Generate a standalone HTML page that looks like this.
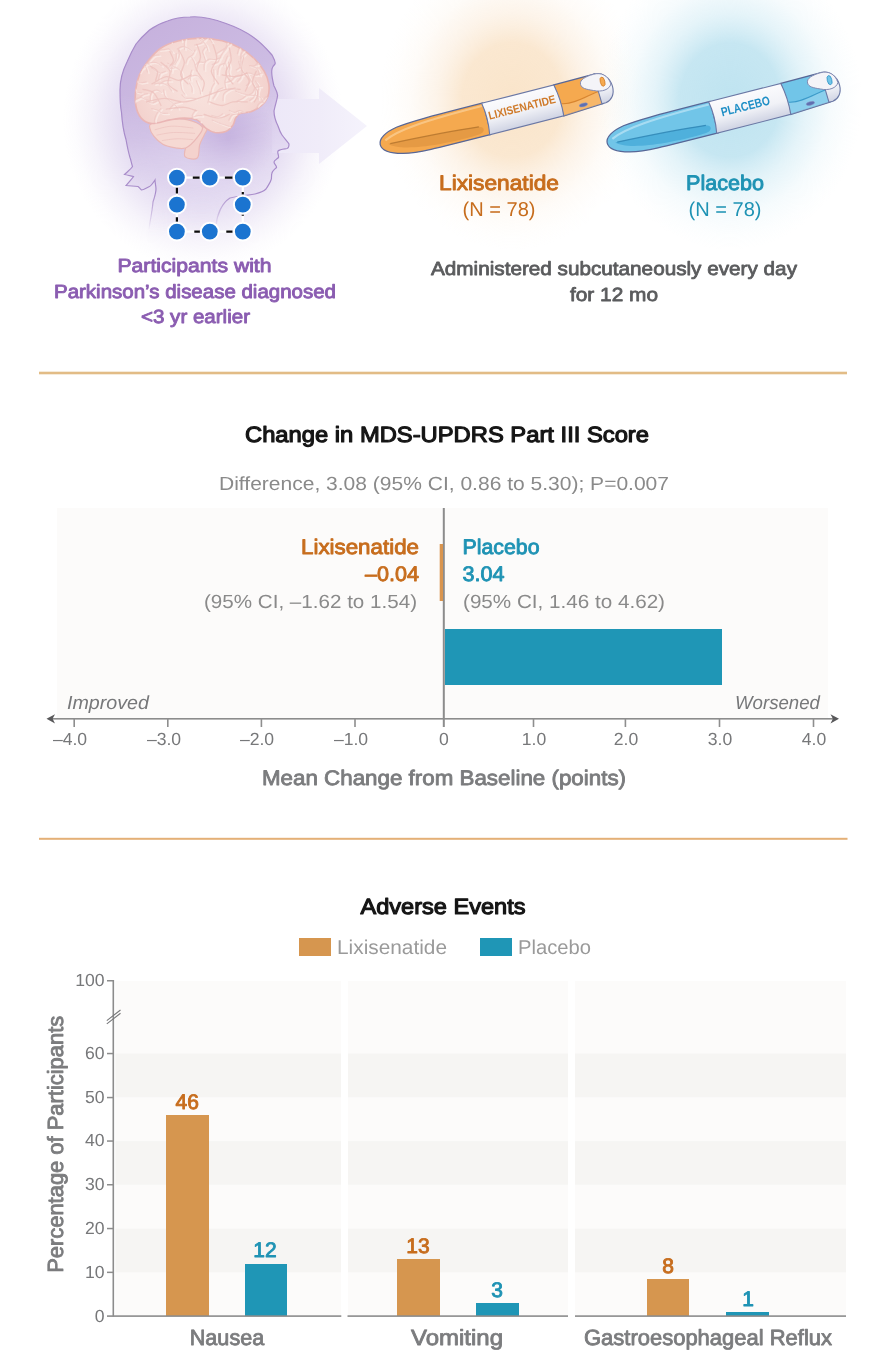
<!DOCTYPE html>
<html lang="en">
<head>
<meta charset="utf-8">
<title>Lixisenatide in Early Parkinson's Disease</title>
<style>
  html, body { margin: 0; padding: 0; background: #ffffff; }
  body { width: 890px; height: 1372px; overflow: hidden; }
  svg { display: block; will-change: transform; }
  text { -webkit-font-smoothing: antialiased; text-rendering: geometricPrecision; }
  text { font-family: "Liberation Sans", sans-serif; fill: currentColor; }
  .b { font-weight: normal; stroke: currentColor; stroke-width: 0.9px; stroke-linejoin: round; }
  .b.blk { stroke-width: 1.15px; }
  .b.dgry { stroke-width: 0.8px; }
  .b.lab { stroke-width: 0.85px; }
  .i { font-style: italic; }
  .org { color: #c76d1d; }
  .blu { color: #1f93b4; }
  .pur { color: #8b5db1; }
  .gry { color: #8a8a8a; }
  .dgry { color: #5b5c5e; }
  .tick { color: #77787a; }
  .blk { color: #151515; }
  .lab { color: #7b7c7e; }
  .lgry { color: #9a9a9a; }
</style>
</head>
<body>
<svg width="890" height="1372" viewBox="0 0 890 1372">
  <defs>
    <radialGradient id="gPur" cx="0.5" cy="0.5" r="0.5">
      <stop offset="0" stop-color="#e3dbf1" stop-opacity="0.95"/>
      <stop offset="0.45" stop-color="#dfd5ef" stop-opacity="0.9"/>
      <stop offset="0.6" stop-color="#d9cdec" stop-opacity="0.6"/>
      <stop offset="0.8" stop-color="#d9cdec" stop-opacity="0.22"/>
      <stop offset="0.92" stop-color="#d9cdec" stop-opacity="0.06"/>
      <stop offset="1" stop-color="#d9cdec" stop-opacity="0"/>
    </radialGradient>
    <radialGradient id="gOrg" cx="0.5" cy="0.5" r="0.5">
      <stop offset="0" stop-color="#f9e0c1" stop-opacity="0.85"/>
      <stop offset="0.38" stop-color="#f9e0c1" stop-opacity="0.75"/>
      <stop offset="0.58" stop-color="#fae6cf" stop-opacity="0.44"/>
      <stop offset="0.76" stop-color="#fae6cf" stop-opacity="0.15"/>
      <stop offset="0.9" stop-color="#fae6cf" stop-opacity="0.04"/>
      <stop offset="1" stop-color="#fae6cf" stop-opacity="0"/>
    </radialGradient>
    <radialGradient id="gBlu" cx="0.5" cy="0.5" r="0.5">
      <stop offset="0" stop-color="#b9e1ef" stop-opacity="0.92"/>
      <stop offset="0.38" stop-color="#b9e1ef" stop-opacity="0.81"/>
      <stop offset="0.58" stop-color="#c9e8f3" stop-opacity="0.48"/>
      <stop offset="0.76" stop-color="#c9e8f3" stop-opacity="0.17"/>
      <stop offset="0.9" stop-color="#c9e8f3" stop-opacity="0.05"/>
      <stop offset="1" stop-color="#c9e8f3" stop-opacity="0"/>
    </radialGradient>
    <linearGradient id="gHead" gradientUnits="userSpaceOnUse" x1="150" y1="20" x2="260" y2="200">
      <stop offset="0" stop-color="#c6b1dd"/>
      <stop offset="0.45" stop-color="#cdbce3"/>
      <stop offset="0.8" stop-color="#dcd0ed"/>
      <stop offset="1" stop-color="#e6def3"/>
    </linearGradient>
    <linearGradient id="gArrow" x1="0" y1="0" x2="1" y2="0">
      <stop offset="0" stop-color="#ede8f8"/>
      <stop offset="0.5" stop-color="#f0ecf9"/>
      <stop offset="1" stop-color="#f5f3fc"/>
    </linearGradient>
    <linearGradient id="gFade" x1="0" y1="0" x2="0" y2="1">
      <stop offset="0" stop-color="#ffffff" stop-opacity="0"/>
      <stop offset="0.75" stop-color="#ffffff" stop-opacity="0.9"/>
      <stop offset="1" stop-color="#ffffff" stop-opacity="1"/>
    </linearGradient>
    <radialGradient id="gBrain" gradientUnits="userSpaceOnUse" cx="200" cy="85" r="75">
      <stop offset="0" stop-color="#f8e3de"/>
      <stop offset="0.7" stop-color="#f5d8d3"/>
      <stop offset="1" stop-color="#f2cfcb"/>
    </radialGradient>
    <linearGradient id="gHeadMask" gradientUnits="userSpaceOnUse" x1="0" y1="95" x2="0" y2="238">
      <stop offset="0" stop-color="#fff" stop-opacity="1"/>
      <stop offset="0.3" stop-color="#fff" stop-opacity="0.78"/>
      <stop offset="0.55" stop-color="#fff" stop-opacity="0.45"/>
      <stop offset="0.78" stop-color="#fff" stop-opacity="0.18"/>
      <stop offset="1" stop-color="#fff" stop-opacity="0"/>
    </linearGradient>
    <linearGradient id="gLineMask" gradientUnits="userSpaceOnUse" x1="0" y1="193" x2="0" y2="230">
      <stop offset="0" stop-color="#fff" stop-opacity="1"/>
      <stop offset="1" stop-color="#fff" stop-opacity="0"/>
    </linearGradient>
    <mask id="mLine" maskUnits="userSpaceOnUse" x="90" y="0" width="220" height="260">
      <rect x="90" y="0" width="220" height="260" fill="url(#gLineMask)"/>
    </mask>
    <mask id="mHead" maskUnits="userSpaceOnUse" x="90" y="0" width="220" height="260">
      <rect x="90" y="0" width="220" height="260" fill="url(#gHeadMask)"/>
    </mask>
    <radialGradient id="gShade" gradientUnits="userSpaceOnUse" cx="228" cy="138" r="48">
      <stop offset="0" stop-color="#b79fd6" stop-opacity="0.75"/>
      <stop offset="1" stop-color="#b9a0d6" stop-opacity="0"/>
    </radialGradient>
    <clipPath id="cBrain"><path d="M135.8 89.3 C136.4 84.2 137.3 79.7 139.4 74.9 C141.5 70.1 144.8 65.1 148.4 60.6 C152.0 56.1 155.9 51.3 161.0 48.0 C166.0 44.7 172.3 42.4 178.9 40.8 C185.5 39.1 193.3 38.1 200.5 38.1 C207.7 38.1 215.5 39.1 222.1 40.8 C228.7 42.4 234.7 45.0 240.1 48.0 C245.4 51.0 250.4 54.9 254.4 58.8 C258.5 62.7 261.9 67.2 264.3 71.3 C266.7 75.5 268.2 79.7 268.8 83.9 C269.4 88.1 269.1 92.9 267.9 96.5 C266.7 100.1 264.5 103.0 261.6 105.5 C258.8 108.1 254.4 110.4 250.8 111.8 C247.2 113.1 242.6 112.5 240.1 113.6 C237.5 114.6 236.8 116.1 235.6 118.1 C234.4 120.0 234.5 123.0 232.9 125.3 C231.2 127.5 228.7 130.4 225.7 131.6 C222.7 132.8 218.0 132.9 214.9 132.5 C211.7 132.0 209.8 131.0 206.8 128.9 C203.8 126.8 200.7 121.7 196.9 119.9 C193.2 118.1 188.8 118.1 184.3 118.1 C179.8 118.1 175.3 119.0 169.9 119.9 C164.6 120.8 156.8 123.8 152.0 123.5 C147.2 123.2 143.9 121.1 141.2 118.1 C138.5 115.1 136.7 110.3 135.8 105.5 C134.9 100.7 135.2 94.4 135.8 89.3 Z"/></clipPath>
    <path id="head" d="M190 17 C200 16 214 19 226 23.5 C236 27 246 32 253 37 C259 41 266 48 272 55 C274 59 276 62 275 64 C273 66 272 67 272 69 C271 73 272 78 274 86 C276 90 278 93 277.500 96 C277 100 275 106 274 111 C274 116 276 122 278 126 C279 129 280 132 282 135 C284 138 288 142 289 144 C289 146 289 148 287 148.500 C284 149 280 149 278 151 C277 153 279 155 278.500 157.500 C277 159 274 160 274 162 C274 164 277 166 276.500 167.500 C275 169 272 171 272 173 C271 175 272 178 271 180 C270 183 268 186 266 189 C263 192 259 193 255 194 C251 195 247 195 244 195.500 C238 196 234 197 230 198 C222 203 217 214 216 226 L216 245 L147 245 C147 235 152 215 153 202 C155 196 156 192 156 189 C156 186 155 183 155 180 C153 183 151 186 149.500 186.500 C146 188 144 190 141.500 190 C140 189 139 187 138 186.500 C134 186 130 186 126 185.500 C128 183 132 179 133.500 176.500 C131 176 127 175 124.500 174.500 C127 172 131 169 132.500 166.500 C131 162 131 160 130 157.500 C128 151 127 145 126 139.500 C123 130 122 120 121.500 112.500 C120 105 120 97 120 90 C120 80 123 70 127 62 C130 55 133 49 136 44 C140 39 145 34 149.500 30 C155 26 161 23 167.500 21 C175 18 182 17 190 17 Z"/>
    <clipPath id="cHead"><use href="#head"/></clipPath>
    <linearGradient id="gLabel" x1="0" y1="0" x2="0" y2="1">
      <stop offset="0" stop-color="#fbfbfd"/>
      <stop offset="0.55" stop-color="#f1f2f7"/>
      <stop offset="1" stop-color="#cfd3e3"/>
    </linearGradient>
    <filter id="blur6" x="-20%" y="-20%" width="140%" height="140%"><feGaussianBlur stdDeviation="6"/></filter>
  </defs>

  <!-- ============ SECTION 1 : illustration ============ -->
  <g id="sec1">
    <!-- glows -->
    <ellipse cx="203" cy="120" rx="140" ry="150" fill="url(#gPur)"/>
    <ellipse cx="512" cy="100" rx="132" ry="150" fill="url(#gOrg)"/>
    <ellipse cx="730" cy="100" rx="132" ry="150" fill="url(#gBlu)"/>

    <!-- arrow -->
    <path d="M272 99 L319 99 L319 88 L367 126 L319 164 L319 153 L272 153 Z" fill="url(#gArrow)"/>

    <!-- head silhouette -->
    <g mask="url(#mHead)"><use href="#head" fill="url(#gHead)"/>
      <ellipse cx="228" cy="138" rx="50" ry="46" fill="url(#gShade)" clip-path="url(#cHead)"/>
    </g>
    <g mask="url(#mLine)"><use href="#head" fill="none" stroke="#a88cca" stroke-width="1.200"/></g>

    <!-- brain -->
    <g id="brain">
      <path d="M206.8 128.5 C208.0 129.9 205.3 132.4 204.1 135.2 C202.9 137.9 200.7 141.3 199.6 145.1 C198.5 148.9 199.7 156.0 197.3 158.0 C194.9 160.0 187.1 158.8 185.2 156.9 C183.3 155.1 185.0 150.0 185.8 146.9 C186.5 143.7 187.9 141.2 189.7 137.9 C191.6 134.6 194.1 128.6 196.9 127.1 C199.8 125.5 205.6 127.2 206.8 128.5 Z" fill="#f4d2cd" stroke="#eab8b6" stroke-width="1.2"/>
      <path d="M152.0 123.5 C155.3 122.1 164.0 120.1 169.9 119.5 C175.9 118.9 182.5 118.6 187.9 119.9 C193.3 121.1 200.8 124.1 202.3 127.1 C203.8 130.1 199.6 134.4 196.9 137.9 C194.2 141.3 189.7 146.1 186.1 147.8 C182.5 149.4 179.2 148.4 175.3 147.8 C171.4 147.2 166.3 146.1 162.8 144.2 C159.2 142.2 155.9 138.8 153.8 136.1 C151.6 133.4 150.1 130.1 149.8 128.0 C149.5 125.9 148.6 124.9 152.0 123.5 Z" fill="#f6d9d3" stroke="#eab8b6" stroke-width="1.2"/>
      <path d="M154.7 129.8 C157.5 129.2 165.3 126.5 171.7 126.2 C178.2 125.9 189.7 127.7 193.3 128.0 M156.5 135.2 C159.3 134.7 167.1 132.8 173.5 132.5 C180.0 132.2 191.5 133.2 195.1 133.4 M161.9 140.6 C164.4 140.3 171.9 138.9 177.1 138.8 C182.4 138.6 190.6 139.5 193.3 139.7" fill="none" stroke="#eec4c0" stroke-width="1" opacity="0.8"/>
      <path d="M135.8 89.3 C136.4 84.2 137.3 79.7 139.4 74.9 C141.5 70.1 144.8 65.1 148.4 60.6 C152.0 56.1 155.9 51.3 161.0 48.0 C166.0 44.7 172.3 42.4 178.9 40.8 C185.5 39.1 193.3 38.1 200.5 38.1 C207.7 38.1 215.5 39.1 222.1 40.8 C228.7 42.4 234.7 45.0 240.1 48.0 C245.4 51.0 250.4 54.9 254.4 58.8 C258.5 62.7 261.9 67.2 264.3 71.3 C266.7 75.5 268.2 79.7 268.8 83.9 C269.4 88.1 269.1 92.9 267.9 96.5 C266.7 100.1 264.5 103.0 261.6 105.5 C258.8 108.1 254.4 110.4 250.8 111.8 C247.2 113.1 242.6 112.5 240.1 113.6 C237.5 114.6 236.8 116.1 235.6 118.1 C234.4 120.0 234.5 123.0 232.9 125.3 C231.2 127.5 228.7 130.4 225.7 131.6 C222.7 132.8 218.0 132.9 214.9 132.5 C211.7 132.0 209.8 131.0 206.8 128.9 C203.8 126.8 200.7 121.7 196.9 119.9 C193.2 118.1 188.8 118.1 184.3 118.1 C179.8 118.1 175.3 119.0 169.9 119.9 C164.6 120.8 156.8 123.8 152.0 123.5 C147.2 123.2 143.9 121.1 141.2 118.1 C138.5 115.1 136.7 110.3 135.8 105.5 C134.9 100.7 135.2 94.4 135.8 89.3 Z" fill="url(#gBrain)" stroke="#eab6b5" stroke-width="1.6"/>
      <g clip-path="url(#cBrain)" fill="none" stroke-linecap="round">
        <path d="M135.9 82.7 C135.4 83.5 134.1 86.1 133.0 87.8 C132.0 89.4 130.1 91.7 129.6 92.5 M143.2 94.2 C142.2 94.0 138.8 93.9 137.4 92.8 C136.0 91.6 135.2 88.3 134.8 87.5 M151.3 54.3 C150.6 53.6 148.7 51.3 147.4 49.9 C146.1 48.4 144.1 46.2 143.5 45.4 M150.9 65.4 C150.0 65.2 147.3 64.1 145.6 64.2 C143.9 64.3 142.2 65.9 140.5 66.0 C138.8 66.2 136.8 64.8 135.2 65.2 C133.5 65.6 131.4 67.7 130.7 68.2 M149.0 73.2 C148.7 72.3 148.4 69.5 147.3 68.2 C146.3 66.9 144.4 66.3 142.9 65.4 C141.4 64.6 139.5 64.4 138.1 63.4 C136.8 62.3 135.3 60.0 134.8 59.3 M147.8 83.1 C146.8 83.2 143.4 84.3 141.4 83.8 C139.5 83.4 136.9 81.0 136.0 80.4 M149.1 94.8 C148.4 95.0 146.0 95.3 144.6 95.9 C143.2 96.6 142.3 98.1 140.9 98.8 C139.6 99.6 137.6 99.3 136.5 100.3 C135.4 101.2 134.7 103.7 134.3 104.4 M152.4 101.7 C151.6 101.6 148.9 101.4 147.3 100.9 C145.6 100.5 144.2 98.7 142.6 98.7 C141.0 98.7 139.4 100.1 137.8 100.8 C136.3 101.6 134.0 102.8 133.2 103.2 M160.7 56.2 C159.8 56.3 156.8 56.2 155.3 57.0 C153.7 57.8 152.6 59.5 151.4 60.9 C150.2 62.3 149.3 63.9 148.1 65.3 C146.9 66.7 145.0 68.7 144.4 69.4 M163.3 67.1 C162.3 66.5 159.4 64.2 157.3 63.7 C155.1 63.2 152.5 63.5 150.4 64.2 C148.2 64.8 146.1 66.2 144.5 67.8 C142.9 69.3 141.5 72.7 140.9 73.7 M161.5 73.9 C160.7 73.6 158.5 72.7 157.1 71.9 C155.7 71.1 153.8 69.5 153.1 69.0 M160.1 80.2 C160.4 79.3 160.8 76.1 161.9 74.9 C163.1 73.6 166.2 72.9 167.0 72.5 M163.0 93.7 C162.4 93.3 160.4 91.5 158.9 91.3 C157.5 91.1 155.5 91.6 154.3 92.5 C153.2 93.4 152.3 95.1 151.9 96.6 C151.5 98.1 151.9 100.6 151.9 101.4 M158.9 101.9 C158.0 102.3 155.3 104.2 153.5 104.2 C151.6 104.2 148.9 102.3 148.0 101.9 M162.5 109.8 C162.0 110.4 160.1 112.0 159.2 113.4 C158.3 114.7 157.6 116.2 157.0 117.7 C156.5 119.2 155.8 120.9 156.0 122.5 C156.1 124.0 157.8 126.1 158.1 126.8 M172.3 43.1 C171.7 42.2 169.8 39.7 168.5 38.0 C167.2 36.3 165.1 33.9 164.4 33.1 M174.1 53.3 C173.5 52.8 171.9 50.6 170.5 50.1 C169.1 49.7 167.3 50.6 165.7 50.8 C164.0 50.9 161.6 51.1 160.8 51.2 M176.4 66.1 C176.9 65.3 178.6 62.9 179.3 61.1 C180.1 59.3 180.8 57.4 180.9 55.5 C180.9 53.6 179.7 50.8 179.5 49.9 M172.9 73.2 C173.1 72.1 173.1 68.8 173.8 66.8 C174.6 64.8 176.7 63.3 177.3 61.3 C178.0 59.3 177.7 55.9 177.8 54.8 M172.7 82.0 C171.7 82.1 168.3 81.5 166.3 82.1 C164.3 82.7 161.7 85.0 160.8 85.6 M173.4 92.0 C172.7 91.1 170.8 88.0 169.0 86.7 C167.1 85.4 164.7 84.5 162.5 84.3 C160.3 84.0 156.8 85.0 155.7 85.2 M170.2 100.8 C169.5 100.1 167.2 98.3 166.3 96.6 C165.5 95.0 165.4 92.0 165.2 91.1 M169.3 114.5 C168.3 114.4 165.3 114.8 163.6 114.3 C161.8 113.7 160.5 112.0 158.8 111.2 C157.0 110.5 154.2 110.0 153.3 109.8 M182.8 42.4 C182.6 41.6 182.4 39.0 181.6 37.6 C180.8 36.3 178.6 35.8 177.8 34.5 C177.1 33.1 177.2 30.4 177.1 29.6 M186.1 50.4 C186.0 49.3 185.9 46.3 185.9 44.2 C186.0 42.2 186.9 40.0 186.4 38.1 C185.8 36.2 184.5 34.0 182.9 33.0 C181.3 32.1 177.8 32.5 176.8 32.4 M187.4 64.4 C187.7 63.5 188.4 60.6 189.5 59.2 C190.6 57.9 192.9 57.5 194.1 56.1 C195.3 54.8 196.2 51.9 196.6 51.1 M181.6 71.5 C180.9 71.1 178.8 69.3 177.2 69.0 C175.6 68.7 173.6 70.0 172.1 69.7 C170.5 69.3 168.5 67.3 167.8 66.8 M182.4 82.9 C182.7 81.8 184.0 78.5 183.8 76.4 C183.5 74.4 182.3 72.0 180.9 70.5 C179.4 69.1 177.0 68.5 175.0 67.5 C173.1 66.5 170.2 64.9 169.3 64.3 M186.6 95.4 C186.1 94.8 184.3 92.9 183.6 91.4 C183.0 90.0 182.8 88.3 182.5 86.7 C182.2 85.0 182.0 82.6 181.9 81.8 M182.2 103.3 C181.1 103.7 177.6 104.1 175.8 105.2 C173.9 106.3 172.0 109.3 171.2 110.1 M179.9 110.0 C179.2 109.2 177.0 106.8 175.5 105.4 C173.9 103.9 171.4 102.0 170.6 101.3 M184.5 123.2 C183.6 123.6 181.0 124.7 179.3 125.5 C177.6 126.2 176.0 127.8 174.2 127.9 C172.5 128.0 169.8 126.3 169.0 125.9 M196.2 46.2 C197.3 45.9 200.9 45.5 202.8 44.4 C204.6 43.3 206.0 41.2 207.5 39.5 C209.0 37.8 211.0 35.1 211.7 34.2 M193.9 52.3 C193.2 51.8 191.0 49.9 189.3 49.2 C187.7 48.4 185.7 47.7 183.9 47.8 C182.2 48.0 179.7 49.8 178.9 50.2 M196.8 66.7 C197.4 66.1 198.8 63.8 200.2 63.2 C201.6 62.7 203.5 63.8 205.1 63.5 C206.6 63.1 208.7 61.7 209.4 61.3 M198.2 72.4 C198.0 71.6 197.3 69.2 196.9 67.7 C196.5 66.1 196.3 64.4 195.7 62.9 C195.1 61.4 193.6 59.4 193.2 58.7 M192.2 81.7 C192.1 80.9 191.6 78.2 191.8 76.4 C192.0 74.7 193.1 72.2 193.4 71.3 M193.7 93.3 C193.6 92.5 193.9 90.0 193.5 88.6 C193.1 87.1 191.5 85.1 191.1 84.4 M197.6 99.9 C196.8 99.8 194.2 99.4 192.5 99.3 C190.8 99.2 188.8 99.9 187.3 99.4 C185.8 98.8 184.0 96.6 183.4 96.0 M197.2 111.3 C196.6 112.2 194.1 114.7 193.8 116.6 C193.5 118.5 195.1 120.6 195.3 122.6 C195.4 124.7 194.7 126.8 194.6 128.9 C194.5 130.9 194.8 134.1 194.8 135.1 M191.2 126.7 C190.4 126.7 187.8 126.1 186.5 126.6 C185.1 127.1 184.4 129.2 183.0 129.8 C181.7 130.4 179.1 130.2 178.3 130.2 M205.2 41.9 C204.6 41.2 202.3 39.1 201.3 37.3 C200.3 35.6 199.2 33.5 199.3 31.6 C199.4 29.8 201.5 27.1 201.9 26.2 M209.4 51.3 C209.0 50.3 208.4 47.2 207.2 45.6 C206.1 44.0 204.1 43.0 202.5 41.8 C200.9 40.6 198.3 39.0 197.4 38.5 M207.0 61.4 C206.7 60.6 206.0 58.5 205.6 57.0 C205.1 55.5 204.0 54.0 204.2 52.6 C204.3 51.2 206.2 49.4 206.6 48.7 M205.7 71.2 C205.8 70.1 205.3 66.8 206.0 65.0 C206.8 63.3 208.5 61.3 210.2 60.5 C211.9 59.8 214.3 61.0 216.3 60.7 C218.3 60.4 221.2 59.1 222.2 58.7 M203.3 81.0 C202.7 80.4 201.1 77.7 199.5 77.1 C197.9 76.4 195.6 76.5 194.0 77.0 C192.3 77.6 190.4 79.9 189.6 80.4 M202.2 95.1 C202.0 94.4 201.8 92.0 201.4 90.6 C200.9 89.1 200.2 87.7 199.6 86.3 C199.0 84.8 198.2 82.7 197.9 81.9 M209.4 104.0 C209.6 103.1 210.4 100.4 210.8 98.5 C211.2 96.7 211.5 93.9 211.6 92.9 M203.7 116.9 C202.9 116.9 200.2 116.6 198.6 116.9 C196.9 117.2 195.3 117.9 193.8 118.7 C192.3 119.4 190.3 121.1 189.6 121.6 M201.6 122.3 C201.1 122.9 198.9 124.7 198.4 126.3 C197.9 127.8 199.1 129.8 198.7 131.4 C198.4 133.0 196.7 135.1 196.3 135.8 M213.8 43.9 C213.3 43.1 211.9 40.9 211.2 39.3 C210.5 37.7 210.0 36.0 209.4 34.4 C208.8 32.7 208.1 30.2 207.8 29.3 M218.6 54.5 C219.5 53.9 222.2 52.1 224.0 51.0 C225.8 49.8 227.8 48.9 229.3 47.4 C230.8 45.9 231.5 43.7 232.9 42.1 C234.3 40.5 236.8 38.4 237.5 37.7 M213.8 65.8 C214.7 65.3 218.0 64.4 219.5 63.0 C220.9 61.6 221.3 59.2 222.3 57.4 C223.3 55.5 224.4 53.7 225.4 51.8 C226.4 50.0 228.0 47.3 228.5 46.3 M219.3 75.6 C219.4 74.9 219.4 72.5 219.7 70.9 C220.1 69.4 220.3 67.6 221.3 66.5 C222.3 65.5 224.9 65.0 225.6 64.7 M215.6 82.8 C215.6 81.8 215.6 78.8 215.5 76.7 C215.5 74.7 215.3 71.7 215.3 70.7 M212.6 95.6 C212.7 94.6 212.6 91.4 213.2 89.5 C213.8 87.5 215.7 85.0 216.2 84.1 M214.6 99.8 C215.1 99.1 216.5 97.0 217.4 95.6 C218.3 94.1 218.7 92.2 219.9 91.1 C221.1 90.0 223.7 89.3 224.5 89.0 M213.2 116.5 C214.2 116.7 217.2 118.2 219.1 118.0 C220.9 117.7 223.5 115.5 224.3 115.0 M213.8 121.2 C214.7 121.6 217.5 122.8 219.4 123.6 C221.2 124.3 223.1 125.0 225.0 125.7 C226.9 126.4 229.8 127.4 230.7 127.8 M225.3 53.1 C225.9 52.3 228.1 50.2 228.6 48.5 C229.1 46.8 227.8 44.6 228.3 42.9 C228.8 41.2 231.1 39.1 231.7 38.3 M225.2 67.0 C225.5 66.2 226.5 63.8 227.1 62.2 C227.7 60.5 228.7 58.1 229.1 57.3 M231.6 77.2 C231.4 76.4 230.4 74.1 230.4 72.6 C230.3 71.1 231.3 69.5 231.2 68.0 C231.2 66.5 230.3 64.2 230.1 63.5 M226.5 84.0 C227.5 83.7 231.0 83.0 232.8 81.9 C234.7 80.7 235.6 77.9 237.5 77.0 C239.3 76.1 243.0 76.4 244.1 76.3 M227.5 89.4 C227.3 88.4 226.3 85.3 226.4 83.3 C226.5 81.3 227.5 79.3 227.8 77.3 C228.1 75.2 228.4 73.1 228.3 71.1 C228.3 69.0 227.6 66.0 227.4 64.9 M224.6 101.9 C224.7 100.8 224.3 97.1 225.3 95.3 C226.3 93.5 228.5 92.1 230.4 91.1 C232.3 90.0 235.6 89.4 236.7 89.1 M230.8 111.5 C231.7 111.9 234.2 113.6 235.9 113.6 C237.5 113.7 239.3 111.7 241.0 111.7 C242.7 111.7 244.6 112.8 246.0 113.9 C247.4 114.9 249.0 117.3 249.6 118.0 M230.4 121.4 C230.9 120.6 232.0 117.2 233.5 116.2 C235.0 115.1 237.5 115.5 239.4 114.9 C241.4 114.4 244.2 113.3 245.2 113.0 M237.1 45.4 C238.2 45.3 241.6 44.7 243.8 44.8 C246.0 44.8 248.6 44.7 250.4 45.7 C252.3 46.7 254.1 48.9 254.7 50.9 C255.3 52.9 254.1 56.5 254.0 57.6 M239.0 55.0 C239.3 54.1 239.8 51.3 240.5 49.5 C241.3 47.8 242.8 46.5 243.4 44.7 C244.1 43.0 244.7 40.8 244.3 39.2 C243.9 37.5 241.5 35.4 240.9 34.7 M242.0 60.2 C242.1 59.4 242.2 56.7 242.8 55.1 C243.4 53.5 244.5 52.0 245.6 50.7 C246.7 49.4 248.8 47.8 249.5 47.3 M237.8 71.1 C238.5 70.6 240.9 69.5 241.7 68.2 C242.4 66.9 242.1 65.0 242.4 63.4 C242.6 61.9 242.4 60.1 243.1 58.7 C243.7 57.3 245.7 55.7 246.2 55.1 M239.0 82.8 C239.6 82.1 241.7 80.1 242.5 78.5 C243.3 76.9 243.8 74.8 243.7 73.1 C243.6 71.3 242.3 69.6 241.7 67.9 C241.2 66.1 240.5 63.4 240.3 62.5 M237.2 92.1 C238.2 92.6 241.3 94.0 243.4 94.7 C245.5 95.3 247.7 95.8 249.9 96.2 C252.1 96.5 255.5 96.6 256.6 96.7 M238.8 102.2 C239.7 101.8 242.4 100.8 244.0 99.8 C245.6 98.8 247.7 96.8 248.5 96.2 M240.1 113.4 C240.4 114.2 241.1 116.4 241.9 117.8 C242.6 119.2 243.8 120.3 244.5 121.7 C245.2 123.1 245.8 125.5 246.1 126.2 M238.1 121.7 C238.7 122.2 241.0 123.3 242.0 124.5 C243.0 125.6 243.9 128.0 244.3 128.7 M249.5 49.8 C250.4 49.0 253.7 47.2 254.8 45.3 C255.8 43.4 256.2 40.6 255.9 38.4 C255.5 36.3 253.8 34.3 252.8 32.2 C251.8 30.1 250.4 27.0 249.9 25.9 M251.1 66.7 C251.8 66.8 254.4 67.6 255.8 67.1 C257.1 66.6 258.4 65.0 259.0 63.7 C259.6 62.3 259.1 60.5 259.3 59.0 C259.6 57.4 260.1 55.1 260.3 54.3 M245.9 74.9 C246.9 74.8 249.8 74.0 251.7 74.3 C253.6 74.5 255.3 76.4 257.1 76.4 C258.9 76.4 261.7 74.7 262.6 74.4 M248.0 86.7 C248.6 86.1 250.9 84.4 251.3 83.0 C251.8 81.5 251.1 79.5 250.5 78.0 C250.0 76.4 248.5 74.3 248.0 73.6 M249.3 96.9 C250.1 96.3 252.7 95.1 254.0 93.7 C255.3 92.4 255.5 89.8 256.9 88.8 C258.3 87.8 261.5 87.8 262.4 87.6 M251.2 101.7 C252.1 100.9 255.3 99.0 256.2 97.1 C257.1 95.3 257.1 92.6 256.7 90.5 C256.4 88.3 255.1 86.3 254.0 84.3 C253.0 82.3 251.1 79.5 250.6 78.6 M248.6 113.1 C249.5 113.3 252.4 114.3 253.9 113.8 C255.5 113.3 256.8 111.5 257.8 110.1 C258.9 108.6 258.9 106.4 260.1 105.2 C261.3 103.9 264.0 103.0 264.8 102.5 M258.7 66.3 C259.5 65.7 262.0 64.0 263.6 62.8 C265.3 61.6 266.7 59.7 268.5 59.2 C270.3 58.7 272.7 60.3 274.5 59.8 C276.2 59.2 278.3 56.5 279.0 55.9 M261.4 76.6 C261.0 75.5 260.4 71.6 259.0 70.1 C257.5 68.5 253.7 67.7 252.6 67.3 M257.1 82.3 C257.6 83.2 260.1 85.8 260.5 87.7 C260.8 89.6 259.2 91.8 259.1 93.9 C259.0 96.0 259.6 99.1 259.7 100.2 M258.1 96.7 C258.9 97.1 261.5 98.0 262.7 99.2 C263.9 100.5 264.6 103.2 265.0 104.0 M264.5 102.7 C264.9 102.0 265.7 99.2 267.0 98.2 C268.3 97.2 271.2 97.2 272.1 96.9" stroke="#fbeeea" stroke-width="1.600" opacity="0.7"/>
        <path d="M134.3 81.5 C133.8 82.3 132.5 84.9 131.4 86.6 C130.4 88.2 128.5 90.5 128.0 91.3 M141.6 93.0 C140.6 92.8 137.2 92.7 135.8 91.6 C134.4 90.4 133.6 87.1 133.2 86.3 M149.7 53.1 C149.0 52.4 147.1 50.1 145.8 48.7 C144.5 47.2 142.5 45.0 141.9 44.2 M149.3 64.2 C148.4 64.0 145.7 62.9 144.0 63.0 C142.3 63.1 140.6 64.7 138.9 64.8 C137.2 65.0 135.2 63.6 133.6 64.0 C131.9 64.4 129.8 66.5 129.1 67.0 M147.4 72.0 C147.1 71.1 146.8 68.3 145.7 67.0 C144.7 65.7 142.8 65.1 141.3 64.2 C139.8 63.4 137.9 63.2 136.5 62.2 C135.2 61.1 133.7 58.8 133.2 58.1 M146.2 81.9 C145.2 82.0 141.8 83.1 139.8 82.6 C137.9 82.2 135.3 79.8 134.4 79.2 M147.5 93.6 C146.8 93.8 144.4 94.1 143.0 94.7 C141.6 95.4 140.7 96.9 139.3 97.6 C138.0 98.4 136.0 98.1 134.9 99.1 C133.8 100.0 133.1 102.5 132.7 103.2 M150.8 100.5 C150.0 100.4 147.3 100.2 145.7 99.7 C144.0 99.3 142.6 97.5 141.0 97.5 C139.4 97.5 137.8 98.9 136.2 99.6 C134.7 100.4 132.4 101.6 131.6 102.0 M159.1 55.0 C158.2 55.1 155.2 55.0 153.7 55.8 C152.1 56.6 151.0 58.3 149.8 59.7 C148.6 61.1 147.7 62.7 146.5 64.1 C145.3 65.5 143.4 67.5 142.8 68.2 M161.7 65.9 C160.7 65.3 157.8 63.0 155.7 62.5 C153.5 62.0 150.9 62.3 148.8 63.0 C146.6 63.6 144.5 65.0 142.9 66.6 C141.3 68.1 139.9 71.5 139.3 72.5 M159.9 72.7 C159.1 72.4 156.9 71.5 155.5 70.7 C154.1 69.9 152.2 68.3 151.5 67.8 M158.5 79.0 C158.8 78.1 159.2 74.9 160.3 73.7 C161.5 72.4 164.6 71.7 165.4 71.3 M161.4 92.5 C160.8 92.1 158.8 90.3 157.3 90.1 C155.9 89.9 153.9 90.4 152.7 91.3 C151.6 92.2 150.7 93.9 150.3 95.4 C149.9 96.9 150.3 99.4 150.3 100.2 M157.3 100.7 C156.4 101.1 153.7 103.0 151.9 103.0 C150.0 103.0 147.3 101.1 146.4 100.7 M160.9 108.6 C160.4 109.2 158.5 110.8 157.6 112.2 C156.7 113.5 156.0 115.0 155.4 116.5 C154.9 118.0 154.2 119.7 154.4 121.3 C154.5 122.8 156.2 124.9 156.5 125.6 M170.7 41.9 C170.1 41.0 168.2 38.5 166.9 36.8 C165.6 35.1 163.5 32.7 162.8 31.9 M172.5 52.1 C171.9 51.6 170.3 49.4 168.9 48.9 C167.5 48.5 165.7 49.4 164.1 49.6 C162.4 49.7 160.0 49.9 159.2 50.0 M174.8 64.9 C175.3 64.1 177.0 61.7 177.7 59.9 C178.5 58.1 179.2 56.2 179.3 54.3 C179.3 52.4 178.1 49.6 177.9 48.7 M171.3 72.0 C171.5 70.9 171.5 67.6 172.2 65.6 C173.0 63.6 175.1 62.1 175.7 60.1 C176.4 58.1 176.1 54.7 176.2 53.6 M171.1 80.8 C170.1 80.9 166.7 80.3 164.7 80.9 C162.7 81.5 160.1 83.8 159.2 84.4 M171.8 90.8 C171.1 89.9 169.2 86.8 167.4 85.5 C165.5 84.2 163.1 83.3 160.9 83.1 C158.7 82.8 155.2 83.8 154.1 84.0 M168.6 99.6 C167.9 98.9 165.6 97.1 164.7 95.4 C163.9 93.8 163.8 90.8 163.6 89.9 M167.7 113.3 C166.7 113.2 163.7 113.6 162.0 113.1 C160.2 112.5 158.9 110.8 157.2 110.0 C155.4 109.3 152.6 108.8 151.7 108.6 M181.2 41.2 C181.0 40.4 180.8 37.8 180.0 36.4 C179.2 35.1 177.0 34.6 176.2 33.3 C175.5 31.9 175.6 29.2 175.5 28.4 M184.5 49.2 C184.4 48.1 184.3 45.1 184.3 43.0 C184.4 41.0 185.3 38.8 184.8 36.9 C184.2 35.0 182.9 32.8 181.3 31.8 C179.7 30.9 176.2 31.3 175.2 31.2 M185.8 63.2 C186.1 62.3 186.8 59.4 187.9 58.0 C189.0 56.7 191.3 56.3 192.5 54.9 C193.7 53.6 194.6 50.7 195.0 49.9 M180.0 70.3 C179.3 69.9 177.2 68.1 175.6 67.8 C174.0 67.5 172.0 68.8 170.5 68.5 C168.9 68.1 166.9 66.1 166.2 65.6 M180.8 81.7 C181.1 80.6 182.4 77.3 182.2 75.2 C181.9 73.2 180.7 70.8 179.3 69.3 C177.8 67.9 175.4 67.3 173.4 66.3 C171.5 65.3 168.6 63.7 167.7 63.1 M185.0 94.2 C184.5 93.6 182.7 91.7 182.0 90.2 C181.4 88.8 181.2 87.1 180.9 85.5 C180.6 83.8 180.4 81.4 180.3 80.6 M180.6 102.1 C179.5 102.5 176.0 102.9 174.2 104.0 C172.3 105.1 170.4 108.1 169.6 108.9 M178.3 108.8 C177.6 108.0 175.4 105.6 173.9 104.2 C172.3 102.7 169.8 100.8 169.0 100.1 M182.9 122.0 C182.0 122.4 179.4 123.5 177.7 124.3 C176.0 125.0 174.4 126.6 172.6 126.7 C170.9 126.8 168.2 125.1 167.4 124.7 M194.6 45.0 C195.7 44.7 199.3 44.3 201.2 43.2 C203.0 42.1 204.4 40.0 205.9 38.3 C207.4 36.6 209.4 33.9 210.1 33.0 M192.3 51.1 C191.6 50.6 189.4 48.7 187.7 48.0 C186.1 47.2 184.1 46.5 182.3 46.6 C180.6 46.8 178.1 48.6 177.3 49.0 M195.2 65.5 C195.8 64.9 197.2 62.6 198.6 62.0 C200.0 61.5 201.9 62.6 203.5 62.3 C205.0 61.9 207.1 60.5 207.8 60.1 M196.6 71.2 C196.4 70.4 195.7 68.0 195.3 66.5 C194.9 64.9 194.7 63.2 194.1 61.7 C193.5 60.2 192.0 58.2 191.6 57.5 M190.6 80.5 C190.5 79.7 190.0 77.0 190.2 75.2 C190.4 73.5 191.5 71.0 191.8 70.1 M192.1 92.1 C192.0 91.3 192.3 88.8 191.9 87.4 C191.5 85.9 189.9 83.9 189.5 83.2 M196.0 98.7 C195.2 98.6 192.6 98.2 190.9 98.1 C189.2 98.0 187.2 98.7 185.7 98.2 C184.2 97.6 182.4 95.4 181.8 94.8 M195.6 110.1 C195.0 111.0 192.5 113.5 192.2 115.4 C191.9 117.3 193.5 119.4 193.7 121.4 C193.8 123.5 193.1 125.6 193.0 127.7 C192.9 129.7 193.2 132.9 193.2 133.9 M189.6 125.5 C188.8 125.5 186.2 124.9 184.9 125.4 C183.5 125.9 182.8 128.0 181.4 128.6 C180.1 129.2 177.5 129.0 176.7 129.0 M203.6 40.7 C203.0 40.0 200.7 37.9 199.7 36.1 C198.7 34.4 197.6 32.3 197.7 30.4 C197.8 28.6 199.9 25.9 200.3 25.0 M207.8 50.1 C207.4 49.1 206.8 46.0 205.6 44.4 C204.5 42.8 202.5 41.8 200.9 40.6 C199.3 39.4 196.7 37.8 195.8 37.3 M205.4 60.2 C205.1 59.4 204.4 57.3 204.0 55.8 C203.5 54.3 202.4 52.8 202.6 51.4 C202.7 50.0 204.6 48.2 205.0 47.5 M204.1 70.0 C204.2 68.9 203.7 65.6 204.4 63.8 C205.2 62.1 206.9 60.1 208.6 59.3 C210.3 58.6 212.7 59.8 214.7 59.5 C216.7 59.2 219.6 57.9 220.6 57.5 M201.7 79.8 C201.1 79.2 199.5 76.5 197.9 75.9 C196.3 75.2 194.0 75.3 192.4 75.8 C190.7 76.4 188.8 78.7 188.0 79.2 M200.6 93.9 C200.4 93.2 200.2 90.8 199.8 89.4 C199.3 87.9 198.6 86.5 198.0 85.1 C197.4 83.6 196.6 81.5 196.3 80.7 M207.8 102.8 C208.0 101.9 208.8 99.2 209.2 97.3 C209.6 95.5 209.9 92.7 210.0 91.7 M202.1 115.7 C201.3 115.7 198.6 115.4 197.0 115.7 C195.3 116.0 193.7 116.7 192.2 117.5 C190.7 118.2 188.7 119.9 188.0 120.4 M200.0 121.1 C199.5 121.7 197.3 123.5 196.8 125.1 C196.3 126.6 197.5 128.6 197.1 130.2 C196.8 131.8 195.1 133.9 194.7 134.6 M212.2 42.7 C211.7 41.9 210.3 39.7 209.6 38.1 C208.9 36.5 208.4 34.8 207.8 33.2 C207.2 31.5 206.5 29.0 206.2 28.1 M217.0 53.3 C217.9 52.7 220.6 50.9 222.4 49.8 C224.2 48.6 226.2 47.7 227.7 46.2 C229.2 44.7 229.9 42.5 231.3 40.9 C232.7 39.3 235.2 37.2 235.9 36.5 M212.2 64.6 C213.1 64.1 216.4 63.2 217.9 61.8 C219.3 60.4 219.7 58.0 220.7 56.2 C221.7 54.3 222.8 52.5 223.8 50.6 C224.8 48.8 226.4 46.1 226.9 45.1 M217.7 74.4 C217.8 73.7 217.8 71.3 218.1 69.7 C218.5 68.2 218.7 66.4 219.7 65.3 C220.7 64.3 223.3 63.8 224.0 63.5 M214.0 81.6 C214.0 80.6 214.0 77.6 213.9 75.5 C213.9 73.5 213.7 70.5 213.7 69.5 M211.0 94.4 C211.1 93.4 211.0 90.2 211.6 88.3 C212.2 86.3 214.1 83.8 214.6 82.9 M213.0 98.6 C213.5 97.9 214.9 95.8 215.8 94.4 C216.7 92.9 217.1 91.0 218.3 89.9 C219.5 88.8 222.1 88.1 222.9 87.8 M211.6 115.3 C212.6 115.5 215.6 117.0 217.5 116.8 C219.3 116.5 221.9 114.3 222.7 113.8 M212.2 120.0 C213.1 120.4 215.9 121.6 217.8 122.4 C219.6 123.1 221.5 123.8 223.4 124.5 C225.3 125.2 228.2 126.2 229.1 126.6 M223.7 51.9 C224.3 51.1 226.5 49.0 227.0 47.3 C227.5 45.6 226.2 43.4 226.7 41.7 C227.2 40.0 229.5 37.9 230.1 37.1 M223.6 65.8 C223.9 65.0 224.9 62.6 225.5 61.0 C226.1 59.3 227.1 56.9 227.5 56.1 M230.0 76.0 C229.8 75.2 228.8 72.9 228.8 71.4 C228.7 69.9 229.7 68.3 229.6 66.8 C229.6 65.3 228.7 63.0 228.5 62.3 M224.9 82.8 C225.9 82.5 229.4 81.8 231.2 80.7 C233.1 79.5 234.0 76.7 235.9 75.8 C237.7 74.9 241.4 75.2 242.5 75.1 M225.9 88.2 C225.7 87.2 224.7 84.1 224.8 82.1 C224.9 80.1 225.9 78.1 226.2 76.1 C226.5 74.0 226.8 71.9 226.7 69.9 C226.7 67.8 226.0 64.8 225.8 63.7 M223.0 100.7 C223.1 99.6 222.7 95.9 223.7 94.1 C224.7 92.3 226.9 90.9 228.8 89.9 C230.7 88.8 234.0 88.2 235.1 87.9 M229.2 110.3 C230.1 110.7 232.6 112.4 234.3 112.4 C235.9 112.5 237.7 110.5 239.4 110.5 C241.1 110.5 243.0 111.6 244.4 112.7 C245.8 113.7 247.4 116.1 248.0 116.8 M228.8 120.2 C229.3 119.4 230.4 116.0 231.9 115.0 C233.4 113.9 235.9 114.3 237.8 113.7 C239.8 113.2 242.6 112.1 243.6 111.8 M235.5 44.2 C236.6 44.1 240.0 43.5 242.2 43.6 C244.4 43.6 247.0 43.5 248.8 44.5 C250.7 45.5 252.5 47.7 253.1 49.7 C253.7 51.7 252.5 55.3 252.4 56.4 M237.4 53.8 C237.7 52.9 238.2 50.1 238.9 48.3 C239.7 46.6 241.2 45.3 241.8 43.5 C242.5 41.8 243.1 39.6 242.7 38.0 C242.3 36.3 239.9 34.2 239.3 33.5 M240.4 59.0 C240.5 58.2 240.6 55.5 241.2 53.9 C241.8 52.3 242.9 50.8 244.0 49.5 C245.1 48.2 247.2 46.6 247.9 46.1 M236.2 69.9 C236.9 69.4 239.3 68.3 240.1 67.0 C240.8 65.7 240.5 63.8 240.8 62.2 C241.0 60.7 240.8 58.9 241.5 57.5 C242.1 56.1 244.1 54.5 244.6 53.9 M237.4 81.6 C238.0 80.9 240.1 78.9 240.9 77.3 C241.7 75.7 242.2 73.6 242.1 71.9 C242.0 70.1 240.7 68.4 240.1 66.7 C239.6 64.9 238.9 62.2 238.7 61.3 M235.6 90.9 C236.6 91.4 239.7 92.8 241.8 93.5 C243.9 94.1 246.1 94.6 248.3 95.0 C250.5 95.3 253.9 95.4 255.0 95.5 M237.2 101.0 C238.1 100.6 240.8 99.6 242.4 98.6 C244.0 97.6 246.1 95.6 246.9 95.0 M238.5 112.2 C238.8 113.0 239.5 115.2 240.3 116.6 C241.0 118.0 242.2 119.1 242.9 120.5 C243.6 121.9 244.2 124.3 244.5 125.0 M236.5 120.5 C237.1 121.0 239.4 122.1 240.4 123.3 C241.4 124.4 242.3 126.8 242.7 127.5 M247.9 48.6 C248.8 47.8 252.1 46.0 253.2 44.1 C254.2 42.2 254.6 39.4 254.3 37.2 C253.9 35.1 252.2 33.1 251.2 31.0 C250.2 28.9 248.8 25.8 248.3 24.7 M249.5 65.5 C250.2 65.6 252.8 66.4 254.2 65.9 C255.5 65.4 256.8 63.8 257.4 62.5 C258.0 61.1 257.5 59.3 257.7 57.8 C258.0 56.2 258.5 53.9 258.7 53.1 M244.3 73.7 C245.3 73.6 248.2 72.8 250.1 73.1 C252.0 73.3 253.7 75.2 255.5 75.2 C257.3 75.2 260.1 73.5 261.0 73.2 M246.4 85.5 C247.0 84.9 249.3 83.2 249.7 81.8 C250.2 80.3 249.5 78.3 248.9 76.8 C248.4 75.2 246.9 73.1 246.4 72.4 M247.7 95.7 C248.5 95.1 251.1 93.9 252.4 92.5 C253.7 91.2 253.9 88.6 255.3 87.6 C256.7 86.6 259.9 86.6 260.8 86.4 M249.6 100.5 C250.5 99.7 253.7 97.8 254.6 95.9 C255.5 94.1 255.5 91.4 255.1 89.3 C254.8 87.1 253.5 85.1 252.4 83.1 C251.4 81.1 249.5 78.3 249.0 77.4 M247.0 111.9 C247.9 112.1 250.8 113.1 252.3 112.6 C253.9 112.1 255.2 110.3 256.2 108.9 C257.3 107.4 257.3 105.2 258.5 104.0 C259.7 102.7 262.4 101.8 263.2 101.3 M257.1 65.1 C257.9 64.5 260.4 62.8 262.0 61.6 C263.7 60.4 265.1 58.5 266.9 58.0 C268.7 57.5 271.1 59.1 272.9 58.6 C274.6 58.0 276.7 55.3 277.4 54.7 M259.8 75.4 C259.4 74.3 258.8 70.4 257.4 68.9 C255.9 67.3 252.1 66.5 251.0 66.1 M255.5 81.1 C256.0 82.0 258.5 84.6 258.9 86.5 C259.2 88.4 257.6 90.6 257.5 92.7 C257.4 94.8 258.0 97.9 258.1 99.0 M256.5 95.5 C257.3 95.9 259.9 96.8 261.1 98.0 C262.3 99.3 263.0 102.0 263.4 102.8 M262.9 101.5 C263.3 100.8 264.1 98.0 265.4 97.0 C266.7 96.0 269.6 96.0 270.5 95.7" stroke="#edc3bf" stroke-width="1.100" opacity="0.6"/>
      </g>
      <path d="M152.0 83.9 C154.4 82.7 161.9 77.3 166.3 76.7 C170.8 76.1 174.7 80.6 178.9 80.3 C183.1 80.0 189.4 75.8 191.5 74.9 M161.0 62.4 C162.5 63.9 168.7 67.8 169.9 71.3 C171.1 74.9 166.9 80.6 168.1 83.9 C169.3 87.2 175.6 89.9 177.1 91.1 M178.9 49.8 C179.8 51.9 184.0 58.2 184.3 62.4 C184.6 66.6 180.1 71.3 180.7 74.9 C181.3 78.5 186.7 82.4 187.9 83.9 M196.9 44.4 C197.5 46.5 200.5 52.8 200.5 57.0 C200.5 61.2 196.3 65.4 196.9 69.6 C197.5 73.7 203.2 78.5 204.1 82.1 C205.0 85.7 202.6 89.6 202.3 91.1 M213.1 44.4 C213.7 46.8 217.0 54.3 216.7 58.8 C216.4 63.3 211.0 67.2 211.3 71.3 C211.6 75.5 217.3 81.8 218.5 83.9 M229.3 48.0 C229.6 50.1 231.7 56.4 231.1 60.6 C230.5 64.8 225.4 69.3 225.7 73.1 C226.0 77.0 231.7 82.1 232.9 83.9 M243.7 57.0 C243.4 59.1 241.0 65.7 241.9 69.6 C242.8 73.4 248.4 76.7 249.0 80.3 C249.6 83.9 246.0 89.3 245.4 91.1 M256.2 71.3 C255.6 73.1 252.3 78.5 252.6 82.1 C252.9 85.7 257.7 89.6 258.0 92.9 C258.3 96.2 255.0 100.4 254.4 101.9 M146.6 101.9 C149.6 101.3 158.3 98.3 164.6 98.3 C170.8 98.3 177.7 102.2 184.3 101.9 C190.9 101.6 197.2 98.6 204.1 96.5 C211.0 94.4 219.7 90.5 225.7 89.3 C231.7 88.1 237.7 89.3 240.1 89.3 M209.5 101.9 C211.6 102.5 218.2 105.5 222.1 105.5 C226.0 105.5 228.7 102.5 232.9 101.9 C237.1 101.3 244.9 101.9 247.2 101.9 M204.1 114.5 C206.5 115.1 214.3 118.1 218.5 118.1 C222.7 118.1 227.5 115.1 229.3 114.5 M143.0 89.3 C144.8 89.9 150.8 90.2 153.8 92.9 C156.8 95.6 159.8 103.4 161.0 105.5 M166.3 109.1 C169.3 108.8 179.2 107.0 184.3 107.3 C189.4 107.6 194.8 110.3 196.9 110.9 M150.2 66.0 C151.4 66.9 156.5 69.0 157.4 71.3 C158.3 73.7 155.9 78.8 155.6 80.3 M222.1 74.9 C224.5 75.2 232.3 77.0 236.5 76.7 C240.7 76.4 245.4 73.7 247.2 73.1 M169.9 51.6 C170.5 53.1 173.5 58.2 173.5 60.6 C173.5 63.0 170.5 65.1 169.9 66.0" fill="none" stroke="#ecc0bc" stroke-width="1.3" stroke-linecap="round" opacity="0.75"/>
    </g>

    <!-- selection handles -->
    <g id="sel">
      <rect x="176.900" y="177.600" width="65.900" height="54" fill="none" stroke="#ffffff" stroke-width="2.200"/>
      <g stroke="#0c0c0c" stroke-width="2.200" fill="none">
        <path d="M192.800 177.600 H199.600 M224.900 177.600 H232.500 M194.300 231.600 H199.900 M226.300 231.600 H232.500"/>
        <path d="M176.900 187.500 V193.500 M176.900 217.300 V221.800 M242.800 192 V194.600 M242.800 214.500 V215.800"/>
      </g>
      <g fill="#1b74d0" stroke="#ffffff" stroke-width="2">
        <circle cx="176.900" cy="177.600" r="8.900"/><circle cx="209.800" cy="177.600" r="8.900"/><circle cx="242.800" cy="177.600" r="8.900"/>
        <circle cx="176.900" cy="204.600" r="8.900"/><circle cx="242.800" cy="204.600" r="8.900"/>
        <circle cx="176.900" cy="231.600" r="8.900"/><circle cx="209.800" cy="231.600" r="8.900"/><circle cx="242.800" cy="231.600" r="8.900"/>
      </g>
    </g>

    <!-- pens -->
    <g id="penO" transform="translate(380.500 145.800) rotate(-14.3)">
      <!-- barrel -->
      <path d="M0 -1.200 C0 -7 8 -12 20 -14 C35 -16 50 -16.200 110 -16.200 L110 16.300 C50 16.300 35 16.300 20 13 C8 10 0 5 0 -1.200 Z" fill="#f5a94f" stroke="#586797" stroke-width="1.25"/>
      <path d="M6 -4 C20 -11 50 -13.500 108 -13.500" stroke="#fbd19a" stroke-width="2.200" fill="none" opacity="0.7"/>
      <path d="M8 0 C30 1 70 3 98 5.500 C104 6 106 10 102 12.500 C96 15 60 14 40 11 C25 9 12 5 8 0 Z" fill="#e59a44"/>
      <path d="M10 0.300 C40 1.500 70 3 100 6" stroke="#b5752e" stroke-width="1.100" fill="none" opacity="0.85"/>
      <!-- cap -->
      <path d="M183 -16.200 L225 -16.700 L226 14 L185 16.300 Z" fill="#f5a94f" stroke="#586797" stroke-width="1.250"/>
      <path d="M186 4 C198 8 214 2 225 1 L226 14 L185 16.300 Z" fill="#fbd19a" opacity="0.35"/>
      <path d="M186 4 C198 8 214 2 225 1" stroke="#d17a25" stroke-width="1" fill="none" opacity="0.8"/>
      <ellipse cx="206.700" cy="10.500" rx="4.300" ry="1.800" fill="#5e6fb0" stroke="#8b93c4" stroke-width="0.500"/>
      <!-- end ring -->
      <path d="M224 -16.700 C232 -17.200 239.500 -10 239.500 0 C239.500 8 235 13 229 14 L225 14 Z" fill="url(#gLabel)" stroke="#6b78a5" stroke-width="1.100"/>
      <!-- white button -->
      <path d="M209 -10 C209 -15 216 -16.500 224 -16.700 C232 -17 238 -12 238.500 -3 C236 2 228 3 220 -1 C213 -4 209 -6 209 -10 Z" fill="#f4f4f8" stroke="#7f88b0" stroke-width="0.900"/>
      <ellipse cx="231" cy="-7.300" rx="2.300" ry="4.700" fill="#f5a94f" stroke="#d17a25" stroke-width="0.700"/>
      <!-- label -->
      <path d="M108.500 -16.200 L183 -16.200 Q186.500 0 185 16.300 L108.500 16.300 Q111.500 0 108.500 -16.200 Z" fill="url(#gLabel)" stroke="#6b78a5" stroke-width="1.100"/>
      <text x="146.500" y="1.600" text-anchor="middle" font-size="11.500" font-weight="bold" style="color:#cf7a2a" textLength="69" lengthAdjust="spacingAndGlyphs">LIXISENATIDE</text>
    </g>
    <g id="penB" transform="translate(607.500 144.300) rotate(-14.3)">
      <!-- barrel -->
      <path d="M0 -1.200 C0 -7 8 -12 20 -14 C35 -16 50 -16.200 110 -16.200 L110 16.300 C50 16.300 35 16.300 20 13 C8 10 0 5 0 -1.200 Z" fill="#71c5e8" stroke="#586797" stroke-width="1.25"/>
      <path d="M6 -4 C20 -11 50 -13.500 108 -13.500" stroke="#bfe6f6" stroke-width="2.200" fill="none" opacity="0.7"/>
      <path d="M8 0 C30 1 70 3 98 5.500 C104 6 106 10 102 12.500 C96 15 60 14 40 11 C25 9 12 5 8 0 Z" fill="#4fb0dc"/>
      <path d="M10 0.300 C40 1.500 70 3 100 6" stroke="#2f86b5" stroke-width="1.100" fill="none" opacity="0.85"/>
      <!-- cap -->
      <path d="M183 -16.200 L225 -16.700 L226 14 L185 16.300 Z" fill="#71c5e8" stroke="#586797" stroke-width="1.250"/>
      <path d="M186 4 C198 8 214 2 225 1 L226 14 L185 16.300 Z" fill="#bfe6f6" opacity="0.35"/>
      <path d="M186 4 C198 8 214 2 225 1" stroke="#2c8fc2" stroke-width="1" fill="none" opacity="0.8"/>
      <ellipse cx="206.700" cy="10.500" rx="4.300" ry="1.800" fill="#5e6fb0" stroke="#8b93c4" stroke-width="0.500"/>
      <!-- end ring -->
      <path d="M224 -16.700 C232 -17.200 239.500 -10 239.500 0 C239.500 8 235 13 229 14 L225 14 Z" fill="url(#gLabel)" stroke="#6b78a5" stroke-width="1.100"/>
      <!-- white button -->
      <path d="M209 -10 C209 -15 216 -16.500 224 -16.700 C232 -17 238 -12 238.500 -3 C236 2 228 3 220 -1 C213 -4 209 -6 209 -10 Z" fill="#f4f4f8" stroke="#7f88b0" stroke-width="0.900"/>
      <ellipse cx="231" cy="-7.300" rx="2.300" ry="4.700" fill="#71c5e8" stroke="#2c8fc2" stroke-width="0.700"/>
      <!-- label -->
      <path d="M108.500 -16.200 L183 -16.200 Q186.500 0 185 16.300 L108.500 16.300 Q111.500 0 108.500 -16.200 Z" fill="url(#gLabel)" stroke="#6b78a5" stroke-width="1.100"/>
      <text x="118" y="1.400" font-size="12.600" font-weight="bold" style="color:#1f8fc6" textLength="50" lengthAdjust="spacingAndGlyphs">PLACEBO</text>
    </g>

    <!-- text -->
    <g class="b pur" font-size="19" text-anchor="middle">
      <text x="194.500" y="272" textLength="154" lengthAdjust="spacingAndGlyphs">Participants with</text>
      <text x="195" y="297.700" textLength="282" lengthAdjust="spacingAndGlyphs">Parkinson’s disease diagnosed</text>
      <text x="195.500" y="323" textLength="109" lengthAdjust="spacingAndGlyphs">&lt;3 yr earlier</text>
    </g>
    <text x="499" y="190" text-anchor="middle" class="b org" font-size="21" textLength="120" lengthAdjust="spacingAndGlyphs">Lixisenatide</text>
    <text x="499" y="216" text-anchor="middle" class="org" font-size="20" textLength="73" lengthAdjust="spacingAndGlyphs">(N = 78)</text>
    <text x="725" y="190" text-anchor="middle" class="b blu" font-size="21" textLength="78" lengthAdjust="spacingAndGlyphs">Placebo</text>
    <text x="725" y="216" text-anchor="middle" class="blu" font-size="20" textLength="73" lengthAdjust="spacingAndGlyphs">(N = 78)</text>
    <g class="b dgry" font-size="19" text-anchor="middle">
      <text x="614" y="275" textLength="366" lengthAdjust="spacingAndGlyphs">Administered subcutaneously every day</text>
      <text x="614" y="301" textLength="88" lengthAdjust="spacingAndGlyphs">for 12 mo</text>
    </g>
  </g>

  <!-- dividers -->
  <rect x="39" y="371.700" width="808" height="2.600" fill="#e2bc86"/>
  <rect x="39" y="837.800" width="808.500" height="2" fill="#e4b077"/>

  <!-- ============ SECTION 2 : MDS-UPDRS chart ============ -->
  <g id="sec2">
    <text x="447" y="442" text-anchor="middle" class="b blk" font-size="22" textLength="404" lengthAdjust="spacingAndGlyphs">Change in MDS-UPDRS Part III Score</text>
    <text x="444" y="490" text-anchor="middle" font-size="19" class="gry" textLength="450" lengthAdjust="spacingAndGlyphs">Difference, 3.08 (95% CI, 0.86 to 5.30); P=0.007</text>

    <rect x="57" y="508" width="771" height="210" fill="#fcfbfa"/>
    <!-- zero line -->
    <rect x="442.800" y="508" width="2" height="219" fill="#8c8c8c"/>
    <!-- bars -->
    <rect x="439.700" y="544" width="3.300" height="57" fill="#d9954f"/>
    <rect x="445" y="629" width="277" height="56" fill="#1f96b6"/>

    <text x="419" y="554" text-anchor="end" class="b org" font-size="21" textLength="118" lengthAdjust="spacingAndGlyphs">Lixisenatide</text>
    <text x="419" y="581" text-anchor="end" class="b org" font-size="21" textLength="54" lengthAdjust="spacingAndGlyphs">–0.04</text>
    <text x="417" y="608" text-anchor="end" class="gry" font-size="19" textLength="213" lengthAdjust="spacingAndGlyphs">(95% CI, –1.62 to 1.54)</text>

    <text x="462.500" y="554" class="b blu" font-size="21" textLength="77" lengthAdjust="spacingAndGlyphs">Placebo</text>
    <text x="462.500" y="581" class="b blu" font-size="21" textLength="42" lengthAdjust="spacingAndGlyphs">3.04</text>
    <text x="463" y="608" class="gry" font-size="19" textLength="202" lengthAdjust="spacingAndGlyphs">(95% CI, 1.46 to 4.62)</text>

    <text x="67" y="709" class="i tick" font-size="19" textLength="82" lengthAdjust="spacingAndGlyphs">Improved</text>
    <text x="820" y="709" text-anchor="end" class="i tick" font-size="19" textLength="85" lengthAdjust="spacingAndGlyphs">Worsened</text>

    <!-- axis -->
    <rect x="52" y="718" width="781" height="1.600" fill="#8c8c8c"/>
    <path d="M46.500 718.800 L55 714.200 L52.600 718.800 L55 723.400 Z" fill="#58585a"/>
    <path d="M839 718.800 L830.500 714.200 L832.900 718.800 L830.500 723.400 Z" fill="#58585a"/>
    <g fill="#8e8e8e">
      <rect x="73.400" y="718" width="1.600" height="9"/>
      <rect x="167" y="718" width="1.600" height="9"/>
      <rect x="260.600" y="718" width="1.600" height="9"/>
      <rect x="354.200" y="718" width="1.600" height="9"/>
      <rect x="532.700" y="718" width="1.600" height="9"/>
      <rect x="624.600" y="718" width="1.600" height="9"/>
      <rect x="718.700" y="718" width="1.600" height="9"/>
      <rect x="812.700" y="718" width="1.600" height="9"/>
    </g>
    <g class="tick" font-size="17.600" text-anchor="middle">
      <text x="70" y="745">–4.0</text>
      <text x="164" y="745">–3.0</text>
      <text x="257" y="745">–2.0</text>
      <text x="351" y="745">–1.0</text>
      <text x="444" y="745">0</text>
      <text x="534" y="745">1.0</text>
      <text x="626" y="745">2.0</text>
      <text x="720" y="745">3.0</text>
      <text x="814" y="745">4.0</text>
    </g>
    <text x="444" y="785" text-anchor="middle" class="b lab" font-size="21" textLength="364" lengthAdjust="spacingAndGlyphs">Mean Change from Baseline (points)</text>
  </g>

  <!-- ============ SECTION 3 : Adverse events ============ -->
  <g id="sec3">
    <text x="443" y="914" text-anchor="middle" class="b blk" font-size="22" textLength="165" lengthAdjust="spacingAndGlyphs">Adverse Events</text>
    <!-- legend -->
    <rect x="299" y="938" width="32" height="18" fill="#d6964f"/>
    <text x="337" y="954" font-size="20" class="lgry" textLength="110" lengthAdjust="spacingAndGlyphs">Lixisenatide</text>
    <rect x="480" y="938" width="32" height="18" fill="#1f96b6"/>
    <text x="518" y="954" font-size="20" class="lgry" textLength="73" lengthAdjust="spacingAndGlyphs">Placebo</text>

    <!-- panels: alternating bands -->
    <g id="bands">
      <rect x="115.500" y="981" width="730.500" height="335" fill="#fcfbfa"/>
      <g fill="#f6f5f3">
        <rect x="115.500" y="1053.600" width="730.500" height="43.600"/>
        <rect x="115.500" y="1141.100" width="730.500" height="43.600"/>
        <rect x="115.500" y="1228.700" width="730.500" height="43.600"/>
      </g>
      <!-- white gutters -->
      <rect x="341" y="978" width="7" height="342" fill="#fff"/>
      <rect x="568" y="978" width="7" height="342" fill="#fff"/>
    </g>

    <!-- bars -->
    <g fill="#d6964f">
      <rect x="166" y="1115" width="43" height="201"/>
      <rect x="397" y="1259" width="43" height="57"/>
      <rect x="647" y="1279" width="42" height="37"/>
    </g>
    <g fill="#1f96b6">
      <rect x="245" y="1264" width="42" height="52"/>
      <rect x="476" y="1303" width="43" height="13"/>
      <rect x="726" y="1312" width="43" height="4"/>
    </g>

    <!-- baseline + y axis -->
    <g fill="#8c8c8c">
      <rect x="107" y="1315.300" width="234.300" height="1.600"/>
      <rect x="347.500" y="1315.300" width="220.500" height="1.600"/>
      <rect x="575" y="1315.300" width="271" height="1.600"/>
      <rect x="112.500" y="980" width="1.600" height="336.500"/>
      <rect x="107" y="980" width="6" height="1.500"/>
      <rect x="107" y="1052.800" width="6" height="1.500"/>
      <rect x="107" y="1096.800" width="6" height="1.500"/>
      <rect x="107" y="1140.300" width="6" height="1.500"/>
      <rect x="107" y="1184" width="6" height="1.500"/>
      <rect x="107" y="1227.800" width="6" height="1.500"/>
      <rect x="107" y="1271.600" width="6" height="1.500"/>
    </g>
    <!-- axis break -->
    <path d="M106.800 1020.600 L120.500 1010 M106.800 1023.900 L120.500 1013.300" stroke="#77787a" stroke-width="1.100" fill="none"/>

    <g class="tick" font-size="17.600" text-anchor="end">
      <text x="104.500" y="986">100</text>
      <text x="104.500" y="1058.500">60</text>
      <text x="104.500" y="1102.500">50</text>
      <text x="104.500" y="1145.500">40</text>
      <text x="104.500" y="1189.500">30</text>
      <text x="104.500" y="1233.500">20</text>
      <text x="104.500" y="1277.500">10</text>
      <text x="104.500" y="1321.500">0</text>
    </g>

    <g class="b" font-size="21" text-anchor="middle">
      <text x="187.200" y="1109" class="org">46</text>
      <text x="418" y="1253" class="org">13</text>
      <text x="668" y="1273" class="org">8</text>
      <text x="265" y="1257" class="blu">12</text>
      <text x="497" y="1297" class="blu">3</text>
      <text x="748" y="1306" class="blu">1</text>
    </g>

    <g class="b lab" font-size="22" text-anchor="middle">
      <text x="227" y="1345" textLength="74.500" lengthAdjust="spacingAndGlyphs">Nausea</text>
      <text x="457" y="1345" textLength="92" lengthAdjust="spacingAndGlyphs">Vomiting</text>
      <text x="708" y="1345" textLength="248" lengthAdjust="spacingAndGlyphs">Gastroesophageal Reflux</text>
    </g>
    <text transform="translate(63 1144.300) rotate(-90)" text-anchor="middle" class="b lab" font-size="22" textLength="257" lengthAdjust="spacingAndGlyphs">Percentage of Participants</text>
  </g>
</svg>
</body>
</html>
